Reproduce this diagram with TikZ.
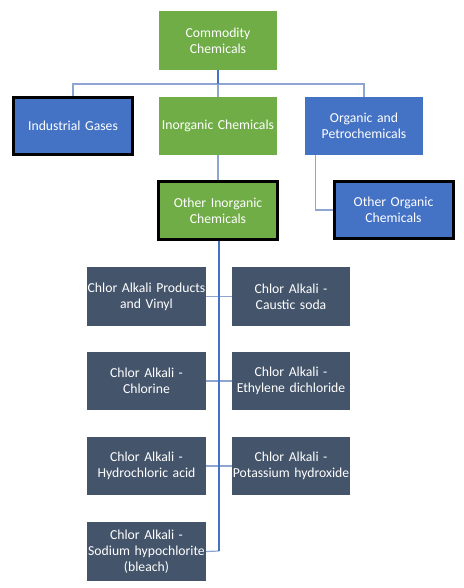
\documentclass[tikz,border=0pt]{standalone}
\usepackage{fontspec}
\setmainfont{Carlito}
\usepackage{tikz}
\usetikzlibrary{positioning}
\definecolor{chemgreen}{HTML}{70AD47}
\definecolor{chemblue}{HTML}{4472C4}
\definecolor{chemslate}{HTML}{44546A}
\definecolor{linkblue}{HTML}{8EA5D2}
\tikzset{
  box/.style={minimum width=118pt, minimum height=58pt, inner sep=0pt,
    text width=118pt, align=center, text=white,
    font=\fontsize{13.7}{15.7}\selectfont},
  greenbox/.style={box, fill=chemgreen},
  bluebox/.style={box, fill=chemblue},
  slatebox/.style={box, fill=chemslate},
  framed/.style={draw=black, line width=3pt, minimum width=119pt, minimum height=57.5pt},
  link/.style={draw=linkblue, line width=1.2pt},
  trunk/.style={draw=chemblue, line width=1.4pt}
}
\begin{document}
\begin{tikzpicture}[x=1pt,y=1pt]
  \useasboundingbox (0,0) rectangle (463,-588);

  \newcommand\LX{146.5}
  \newcommand\RX{291}

  %% upper levels
  \node[greenbox, minimum height=59pt] (commodity) at (218,-40.5) {Commodity\\Chemicals};
  \node[bluebox, framed] (gases) at (73,-126) {Industrial Gases};
  \node[greenbox] (inorganic) at (218,-126) {Inorganic Chemicals};
  \node[bluebox] (organic) at (364,-126) {Organic and\\Petrochemicals};
  \node[greenbox, framed, minimum height=58pt] (otherinorg) at (218,-210.5) {Other Inorganic\\Chemicals};
  \node[bluebox, framed] (otherorg) at (393.5,-210) {Other Organic\\Chemicals};

  %% chlor alkali boxes
  \node[slatebox, minimum width=119pt, minimum height=59pt] (vinyl) at (\LX,-296.5) {Chlor Alkali Products\\and Vinyl};
  \node[slatebox, minimum height=59pt] (caustic) at (\RX,-296.5) {Chlor Alkali -\\Caustic soda};
  \node[slatebox, minimum width=119pt] (chlorine) at (\LX,-381) {Chlor Alkali -\\Chlorine};
  \node[slatebox] (edc) at (\RX,-381) {Chlor Alkali -\\Ethylene dichloride};
  \node[slatebox, minimum width=119pt] (hcl) at (\LX,-466) {Chlor Alkali -\\Hydrochloric acid};
  \node[slatebox] (koh) at (\RX,-466) {Chlor Alkali -\\Potassium hydroxide};
  \node[slatebox, minimum width=119pt, minimum height=59pt] (bleach) at (\LX,-551.5) {Chlor Alkali -\\Sodium hypochlorite\\(bleach)};

  \coordinate (bar) at (218,-84);
  \coordinate (trunkend) at (219,-551);

  %% connectors
  \begin{scope}[on background layer/.try]
  \path[link] (gases.north) |- (bar) -| (organic.north);
  \path[trunk] (commodity.south) -- (bar);
  \path[link] (bar) -- (inorganic.north);
  \path[link] (inorganic.south) -- (otherinorg.north);
  \path[link] (organic.south west) ++(11pt,0) |- (otherorg.west);
  \path[link] (vinyl.east) -- (caustic.west);
  \path[link] (chlorine.east) -- (edc.west);
  \path[link] (hcl.east) -- (koh.west);
  \path[link] (bleach.east) -- (trunkend);
  \path[trunk] (otherinorg.south) ++(1pt,0) -- (trunkend);
  \end{scope}
\end{tikzpicture}
\end{document}
